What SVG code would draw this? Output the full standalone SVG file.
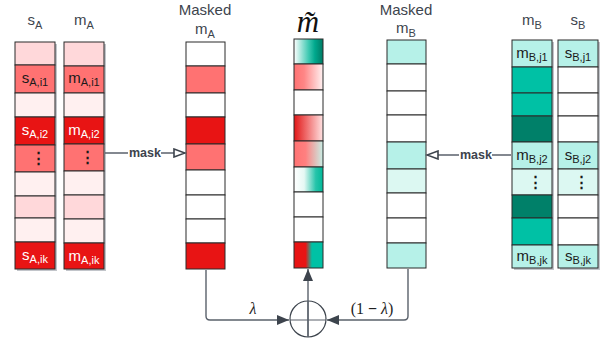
<svg xmlns="http://www.w3.org/2000/svg" width="605" height="341" viewBox="0 0 605 341">
  <style>
    .lbl { font-family: "Liberation Sans", Arial, sans-serif; font-size: 15px; fill: #3d444d; text-anchor: middle; }
    .cell { font-family: "Liberation Sans", Arial, sans-serif; font-size: 15px; fill: #1a1a1a; text-anchor: middle; }
    .cellw { font-family: "Liberation Sans", Arial, sans-serif; font-size: 15px; fill: #ffffff; text-anchor: middle; }
    .sub { font-size: 11px; }
    .dots { font-family: "Liberation Sans", Arial, sans-serif; font-size: 15px; font-weight: bold; fill: #1a1a1a; text-anchor: middle; }
    .math { font-family: "Liberation Serif", "Times New Roman", serif; font-size: 16px; fill: #1f1f1f; text-anchor: middle; }
    .mask { font-family: "Liberation Sans", Arial, sans-serif; font-size: 12.5px; font-weight: bold; fill: #3d444d; text-anchor: middle; }
    rect { stroke: #2a2a2a; stroke-width: 1; }
    rect.shadow { fill: #9a9fa6; stroke: none; opacity: 0.6; }
    rect.bg { fill: #ffffff; stroke: none; }
    .wire { fill: none; stroke: #5a616b; stroke-width: 1.4; }
    .lp { fill: #ffd8da; } .vl { fill: #fff0f0; } .sa { fill: #ff7272; } .rd { fill: #e81414; }
    .wt { fill: #ffffff; } .lt { fill: #b6f1e8; } .vt { fill: #dcf8f2; } .tl { fill: #00c1a5; } .dt { fill: #008069; }
  </style>
  <defs>
    <linearGradient id="g1" x1="0" x2="1" y1="0" y2="0">
      <stop offset="0" stop-color="#ffffff"/><stop offset="0.5" stop-color="#3fc9b2"/><stop offset="0.72" stop-color="#00a88d"/><stop offset="1" stop-color="#007a64"/>
    </linearGradient>
    <linearGradient id="g2" x1="0" x2="1" y1="0" y2="0">
      <stop offset="0" stop-color="#ff7272"/><stop offset="0.35" stop-color="#ff8686"/><stop offset="1" stop-color="#fff2f2"/>
    </linearGradient>
    <linearGradient id="g4" x1="0" x2="1" y1="0" y2="0">
      <stop offset="0" stop-color="#e01616"/><stop offset="0.45" stop-color="#f07070"/><stop offset="1" stop-color="#ffe2e2"/>
    </linearGradient>
    <linearGradient id="g5" x1="0" x2="1" y1="0" y2="0">
      <stop offset="0" stop-color="#ff7272"/><stop offset="0.4" stop-color="#ff8080"/><stop offset="1" stop-color="#c8efe6"/>
    </linearGradient>
    <linearGradient id="g6" x1="0" x2="1" y1="0" y2="0">
      <stop offset="0" stop-color="#ffffff"/><stop offset="0.35" stop-color="#e6f8f4"/><stop offset="0.75" stop-color="#26c4aa"/><stop offset="1" stop-color="#00b898"/>
    </linearGradient>
    <linearGradient id="g9" x1="0" x2="1" y1="0" y2="0">
      <stop offset="0" stop-color="#e81414"/><stop offset="0.4" stop-color="#e81414"/><stop offset="0.62" stop-color="#00c1a5"/><stop offset="1" stop-color="#00c1a5"/>
    </linearGradient>
    <marker id="openTri" markerWidth="14" markerHeight="10" refX="12" refY="5" orient="auto" markerUnits="userSpaceOnUse">
      <path d="M1,1 L12,5 L1,9 Z" fill="#ffffff" stroke="#3d444d" stroke-width="1.6"/>
    </marker>
    <marker id="solidTri" markerWidth="14" markerHeight="12" refX="12" refY="6" orient="auto" markerUnits="userSpaceOnUse">
      <path d="M0,1 L12,6 L0,11 Z" fill="#3d444d"/>
    </marker>
  </defs>

  <!-- column s_A -->
  <g id="sA">
    <text class="lbl" x="35" y="25">s<tspan class="sub" dy="4">A</tspan></text>
    <rect class="shadow" x="17" y="44" width="40" height="227"/>
    <rect class="lp" x="15" y="42" width="40" height="23"/>
    <rect class="sa" x="15" y="65" width="40" height="28"/>
    <rect class="vl" x="15" y="93" width="40" height="24"/>
    <rect class="rd" x="15" y="117" width="40" height="28"/>
    <rect class="sa" x="15" y="145" width="40" height="27"/>
    <rect class="vl" x="15" y="172" width="40" height="24"/>
    <rect class="lp" x="15" y="196" width="40" height="22"/>
    <rect class="vl" x="15" y="218" width="40" height="24"/>
    <rect class="rd" x="15" y="242" width="40" height="27"/>
    <text class="cell" x="35" y="83">s<tspan class="sub" dy="3">A,i1</tspan></text>
    <text class="cellw" x="35" y="135">s<tspan class="sub" dy="3">A,i2</tspan></text>
    <text class="dots" x="38" y="163">⋮</text>
    <text class="cellw" x="35" y="260">s<tspan class="sub" dy="3">A,ik</tspan></text>
  </g>

  <!-- column m_A -->
  <g id="mA">
    <text class="lbl" x="84" y="25">m<tspan class="sub" dy="4">A</tspan></text>
    <rect class="shadow" x="66" y="44" width="40" height="227"/>
    <rect class="lp" x="64" y="42" width="40" height="24"/>
    <rect class="sa" x="64" y="66" width="40" height="27"/>
    <rect class="vl" x="64" y="93" width="40" height="24"/>
    <rect class="rd" x="64" y="117" width="40" height="27"/>
    <rect class="sa" x="64" y="144" width="40" height="27"/>
    <rect class="vl" x="64" y="171" width="40" height="24"/>
    <rect class="lp" x="64" y="195" width="40" height="24"/>
    <rect class="vl" x="64" y="219" width="40" height="24"/>
    <rect class="rd" x="64" y="243" width="40" height="26"/>
    <text class="cell" x="84" y="83">m<tspan class="sub" dy="3">A,i1</tspan></text>
    <text class="cellw" x="84" y="135">m<tspan class="sub" dy="3">A,i2</tspan></text>
    <text class="dots" x="87" y="162">⋮</text>
    <text class="cellw" x="84" y="261">m<tspan class="sub" dy="3">A,ik</tspan></text>
  </g>

  <!-- masked m_A -->
  <g id="maskedA">
    <text class="lbl" x="205" y="15">Masked</text>
    <text class="lbl" x="205" y="34">m<tspan class="sub" dy="4">A</tspan></text>
    <rect class="wt" x="186" y="42" width="39" height="24"/>
    <rect class="sa" x="186" y="66" width="39" height="27"/>
    <rect class="wt" x="186" y="93" width="39" height="24"/>
    <rect class="rd" x="186" y="117" width="39" height="27"/>
    <rect class="sa" x="186" y="144" width="39" height="26"/>
    <rect class="wt" x="186" y="170" width="39" height="25"/>
    <rect class="wt" x="186" y="195" width="39" height="24"/>
    <rect class="wt" x="186" y="219" width="39" height="24"/>
    <rect class="rd" x="186" y="243" width="39" height="26"/>
  </g>

  <!-- mixed column -->
  <g id="mixed">
    <text x="308" y="32" font-family="'Liberation Serif', 'Times New Roman', serif" font-style="italic" font-size="31" fill="#111" text-anchor="middle">m̃</text>
    <rect x="294" y="39" width="29" height="25" fill="url(#g1)"/>
    <rect x="294" y="64" width="29" height="26" fill="url(#g2)"/>
    <rect class="wt" x="294" y="90" width="29" height="25"/>
    <rect x="294" y="115" width="29" height="26" fill="url(#g4)"/>
    <rect x="294" y="141" width="29" height="26" fill="url(#g5)"/>
    <rect x="294" y="167" width="29" height="25" fill="url(#g6)"/>
    <rect class="wt" x="294" y="192" width="29" height="25"/>
    <rect class="wt" x="294" y="217" width="29" height="25"/>
    <rect x="294" y="242" width="29" height="26" fill="url(#g9)"/>
  </g>

  <!-- masked m_B -->
  <g id="maskedB">
    <text class="lbl" x="406" y="15">Masked</text>
    <text class="lbl" x="406" y="33">m<tspan class="sub" dy="4">B</tspan></text>
    <rect class="lt" x="387" y="40" width="39" height="24"/>
    <rect class="wt" x="387" y="64" width="39" height="27"/>
    <rect class="wt" x="387" y="91" width="39" height="24"/>
    <rect class="wt" x="387" y="115" width="39" height="27"/>
    <rect class="lt" x="387" y="142" width="39" height="27"/>
    <rect class="vt" x="387" y="169" width="39" height="24"/>
    <rect class="wt" x="387" y="193" width="39" height="25"/>
    <rect class="wt" x="387" y="218" width="39" height="25"/>
    <rect class="lt" x="387" y="243" width="39" height="25"/>
  </g>

  <!-- column m_B -->
  <g id="mB">
    <text class="lbl" x="532" y="25">m<tspan class="sub" dy="4">B</tspan></text>
    <rect class="shadow" x="514" y="42" width="40" height="228"/>
    <rect class="lt" x="512" y="40" width="40" height="27"/>
    <rect class="tl" x="512" y="67" width="40" height="26"/>
    <rect class="tl" x="512" y="93" width="40" height="23"/>
    <rect class="dt" x="512" y="116" width="40" height="26"/>
    <rect class="lt" x="512" y="142" width="40" height="27"/>
    <rect class="vt" x="512" y="169" width="40" height="26"/>
    <rect class="dt" x="512" y="195" width="40" height="23"/>
    <rect class="tl" x="512" y="218" width="40" height="27"/>
    <rect class="lt" x="512" y="245" width="40" height="23"/>
    <text class="cell" x="532" y="58">m<tspan class="sub" dy="3">B,j1</tspan></text>
    <text class="cell" x="532" y="160">m<tspan class="sub" dy="3">B,j2</tspan></text>
    <text class="dots" x="535" y="187">⋮</text>
    <text class="cell" x="532" y="261">m<tspan class="sub" dy="3">B,jk</tspan></text>
  </g>

  <!-- column s_B -->
  <g id="sB">
    <text class="lbl" x="578" y="25">s<tspan class="sub" dy="4">B</tspan></text>
    <rect class="shadow" x="560" y="42" width="40" height="228"/>
    <rect class="lt" x="558" y="40" width="40" height="27"/>
    <rect class="wt" x="558" y="67" width="40" height="26"/>
    <rect class="wt" x="558" y="93" width="40" height="23"/>
    <rect class="wt" x="558" y="116" width="40" height="26"/>
    <rect class="lt" x="558" y="142" width="40" height="27"/>
    <rect class="vt" x="558" y="169" width="40" height="26"/>
    <rect class="wt" x="558" y="195" width="40" height="23"/>
    <rect class="wt" x="558" y="218" width="40" height="27"/>
    <rect class="lt" x="558" y="245" width="40" height="23"/>
    <text class="cell" x="578" y="58">s<tspan class="sub" dy="3">B,j1</tspan></text>
    <text class="cell" x="578" y="160">s<tspan class="sub" dy="3">B,j2</tspan></text>
    <text class="dots" x="581" y="187">⋮</text>
    <text class="cell" x="578" y="261">s<tspan class="sub" dy="3">B,jk</tspan></text>
  </g>

  <!-- summation node -->
  <g id="sum">
    <circle cx="308" cy="319" r="18" fill="#ffffff" stroke="#3d444d" stroke-width="1.2"/>
    <line x1="290" y1="320" x2="326" y2="320" stroke="#5a616b" stroke-width="1.2"/>
    <line x1="308" y1="301" x2="308" y2="337" stroke="#5a616b" stroke-width="1.2"/>
  </g>

  <!-- connectors -->
  <g id="connectors">
    <line class="wire" x1="105" y1="153" x2="185" y2="153" marker-end="url(#openTri)"/>
    <rect class="bg" x="128" y="146" width="33" height="13"/>
    <text class="mask" x="145" y="157">mask</text>

    <line class="wire" x1="511" y1="155" x2="427" y2="155" marker-end="url(#openTri)"/>
    <rect class="bg" x="459" y="148" width="33" height="13"/>
    <text class="mask" x="476" y="159">mask</text>

    <path class="wire" d="M206,270 V316 Q206,320 210,320 H289" marker-end="url(#solidTri)"/>
    <path class="wire" d="M408,269 V316 Q408,320 404,320 H327" marker-end="url(#solidTri)"/>
    <line class="wire" x1="308" y1="337" x2="308" y2="269" marker-end="url(#solidTri)"/>

    <text class="math" x="253" y="314" font-style="italic">λ</text>
    <text class="math" x="372" y="314">(1 <tspan font-weight="bold">−</tspan> <tspan font-style="italic">λ</tspan>)</text>
  </g>
</svg>
